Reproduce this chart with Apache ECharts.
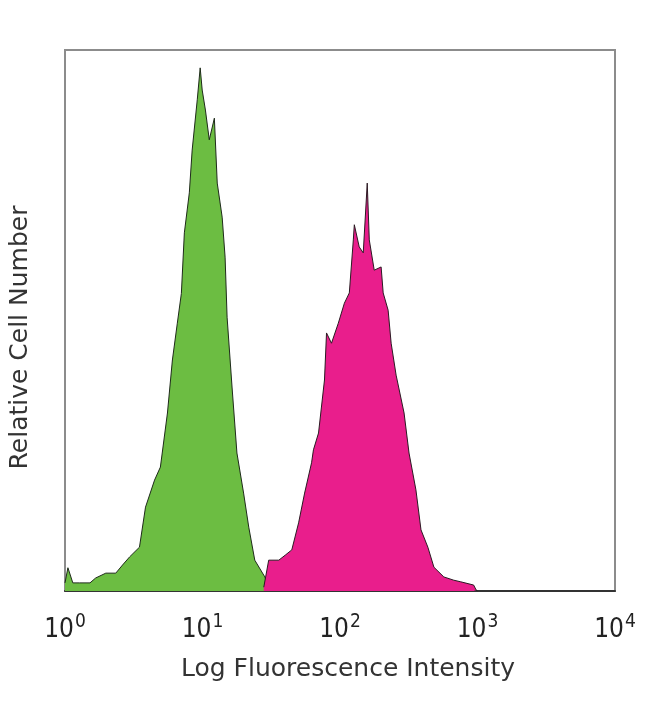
<!DOCTYPE html>
<html>
<head>
<meta charset="utf-8">
<script src="https://cdn.jsdelivr.net/npm/echarts@6/dist/echarts.min.js"></script>
<style>
html,body{margin:0;padding:0;background:#fff;}
#chart{width:650px;height:704px;}
</style>
</head>
<body>
<div id="chart"></div>
<script>
// Tick labels (exponents of 10)
var tickExponents = [0, 1, 2, 3, 4];

// Green histogram (isotype control): fluorescence intensity and relative count
var greenX = [1.00, 1.05, 1.14, 1.28, 1.52, 1.67, 1.98, 2.34, 2.62, 2.95, 3.48, 3.85, 4.48, 4.94, 5.56, 6.04, 6.56, 7.02, 7.38, 8.02, 8.41, 9.16, 9.62, 9.95, 10.5, 11.2, 12.2, 12.8, 13.9, 14.6, 15.1, 16.4, 17.8, 19.9, 21.7, 24.0, 28.4, 30.3, 32.0];
var greenY = [1.5, 4.3, 1.5, 1.5, 1.5, 2.4, 3.3, 3.3, 4.8, 6.3, 8.1, 15.5, 20.5, 22.9, 32.9, 42.7, 49.5, 55.0, 66.2, 73.6, 81.5, 90.8, 96.7, 92.6, 88.9, 83.4, 87.4, 75.4, 69.1, 61.7, 50.6, 37.7, 25.5, 18.1, 11.8, 5.7, 2.6, 0.7, 0];

// Magenta histogram (stained sample)
var magentaX = [27.9, 30.3, 35.9, 40.3, 44.6, 50.0, 55.3, 62.1, 64.1, 69.8, 73.3, 77.1, 79.8, 86.7, 97.2, 107.6, 116.9, 125.0, 127.1, 138.0, 147.6, 157.8, 163.3, 177.4, 199.1, 206.1, 223.9, 235.5, 255.9, 292.4, 317.7, 356.5, 388.2, 435.5, 481.9, 568.9, 671.4, 755.1, 937.6, 977, 1000];
var magentaY = [0.7, 5.7, 5.7, 6.7, 7.6, 12.6, 18.1, 23.7, 26.1, 29.2, 34.0, 39.0, 47.7, 45.8, 49.5, 53.2, 55.1, 64.9, 67.7, 63.6, 62.5, 75.4, 64.9, 59.3, 59.9, 55.1, 51.9, 45.8, 39.9, 32.9, 25.5, 18.7, 11.3, 8.1, 4.4, 2.6, 2.0, 1.7, 1.1, 0.2, 0];

function zip(xs, ys) {
  return xs.map(function (x, i) { return [x, ys[i]]; });
}

var chart = echarts.init(document.getElementById('chart'), null, {renderer: 'canvas'});
var FONT = '"DejaVu Sans", Verdana, sans-serif';
var FONTC = '"DejaVu Sans Condensed", "DejaVu Sans", sans-serif';

chart.setOption({
  backgroundColor: '#ffffff',
  animation: false,
  grid: {
    left: 62, right: 35, top: 50, bottom: 113,
    show: true, borderColor: '#8c8c8c', borderWidth: 2, backgroundColor: '#fff'
  },
  xAxis: {
    type: 'log', logBase: 10, min: 1, max: 10000,
    name: 'Log Fluorescence Intensity',
    nameLocation: 'middle', nameGap: 66,
    nameTextStyle: {fontFamily: FONT, fontSize: 25, color: '#333', padding: [0, 0, 0, 16]},
    axisLine: {show: true, lineStyle: {color: '#333', width: 2}},
    axisTick: {show: false},
    splitLine: {show: false},
    axisLabel: {
      margin: 22,
      showMinLabel: true, showMaxLabel: true,
      formatter: function (v) {
        var e = Math.round(Math.log10(v));
        if (tickExponents.indexOf(e) < 0) return '';
        return '{b|10}{s|' + e + '}';
      },
      rich: {
        b: {fontFamily: FONTC, fontSize: 26, color: '#222', lineHeight: 30, verticalAlign: 'bottom'},
        s: {fontFamily: FONTC, fontSize: 19, color: '#222', lineHeight: 30, verticalAlign: 'top', padding: [0, 0, 10, 1]}
      }
    }
  },
  yAxis: {
    type: 'value', min: 0, max: 100,
    name: 'Relative Cell Number',
    nameLocation: 'middle', nameGap: 32,
    nameTextStyle: {fontFamily: FONT, fontSize: 25, color: '#333', padding: [0, 34, 0, 0]},
    axisLine: {show: true, lineStyle: {color: '#8c8c8c', width: 2}},
    axisTick: {show: false},
    axisLabel: {show: false},
    splitLine: {show: false}
  },
  series: [
    {
      type: 'line', name: 'control', data: zip(greenX, greenY),
      symbol: 'none', smooth: false,
      lineStyle: {color: '#1e2a1a', width: 1},
      areaStyle: {color: '#6cbd42', opacity: 1},
      z: 2
    },
    {
      type: 'line', name: 'stained', data: zip(magentaX, magentaY),
      symbol: 'none', smooth: false,
      lineStyle: {color: '#2a1a22', width: 1},
      areaStyle: {color: '#e91e8c', opacity: 1},
      z: 3
    }
  ]
});
</script>
</body>
</html>
